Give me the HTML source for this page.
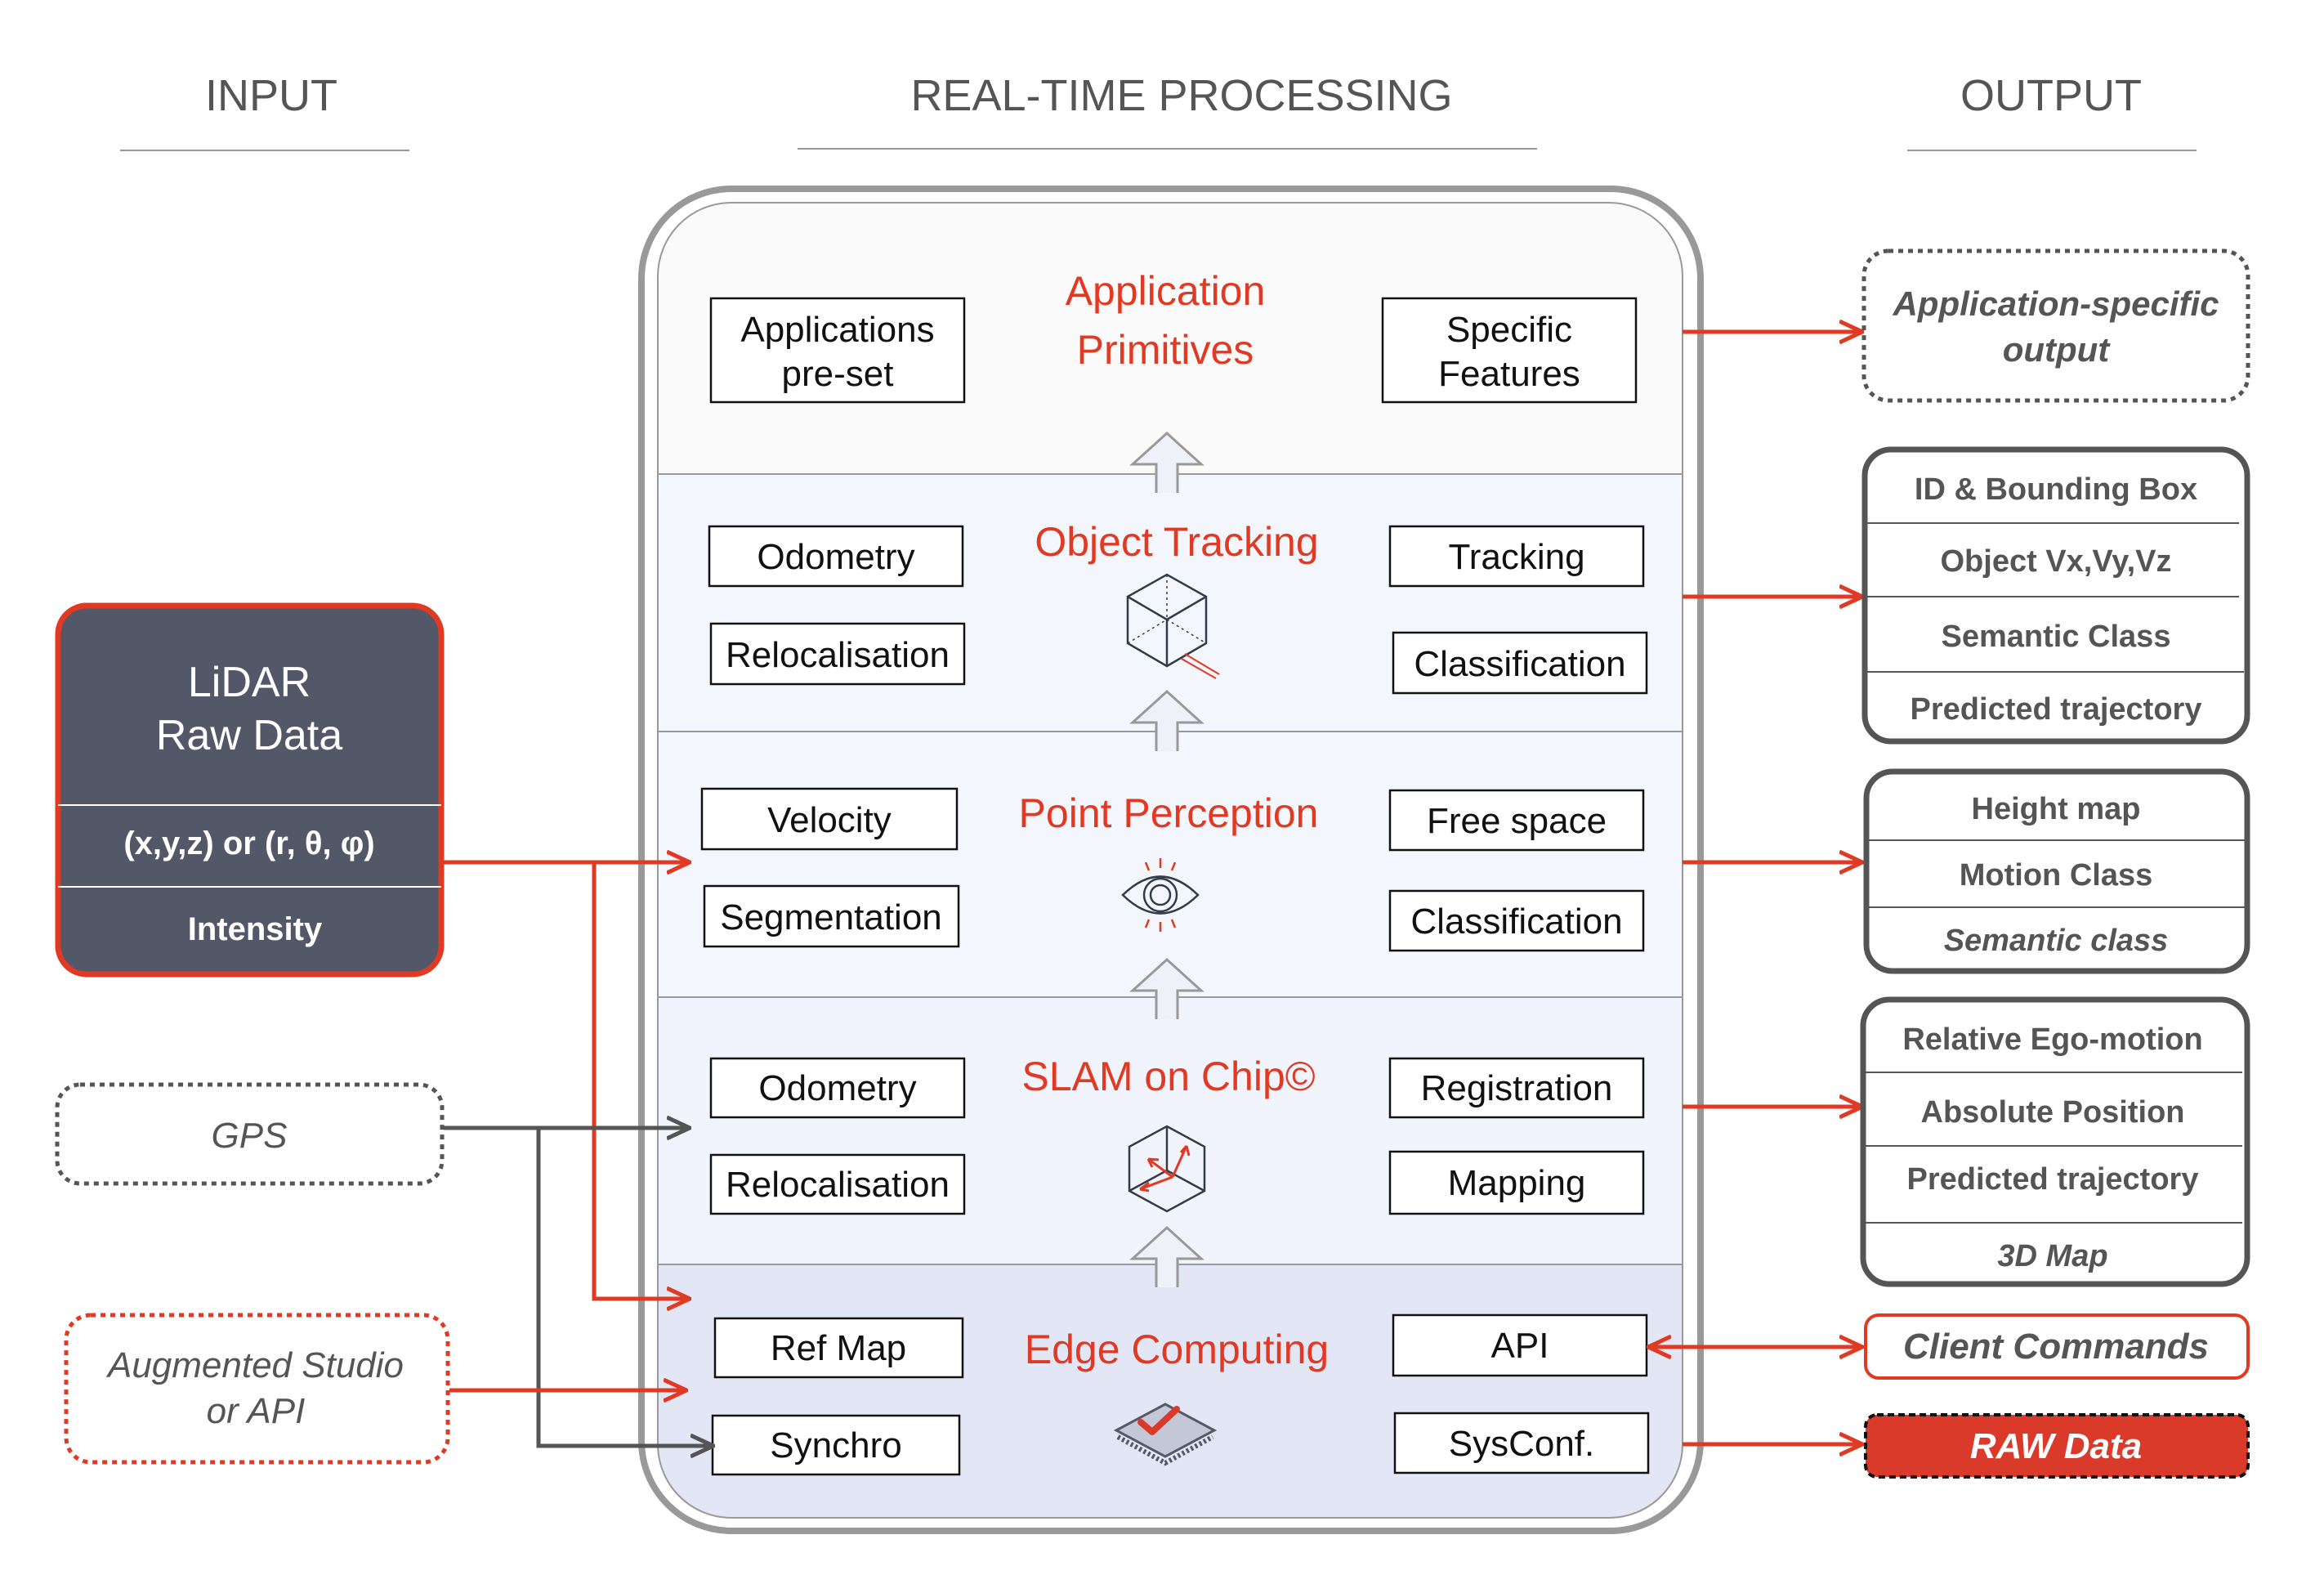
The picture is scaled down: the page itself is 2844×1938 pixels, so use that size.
<!DOCTYPE html>
<html><head><meta charset="utf-8"><style>
html,body{margin:0;padding:0;background:#fff}
svg{display:block}
text{font-family:"Liberation Sans",sans-serif}
</style></head><body>
<svg width="2844" height="1938" viewBox="0 0 2844 1938" xmlns="http://www.w3.org/2000/svg">
<defs>
<marker id="ar2" viewBox="0 0 30 30" refX="28" refY="15" markerWidth="30" markerHeight="30" markerUnits="userSpaceOnUse" orient="auto-start-reverse"><path d="M0,2 L28,15 L0,28" fill="none" stroke="#e03a24" stroke-width="5"/></marker>
<marker id="ag" viewBox="0 0 30 30" refX="28" refY="15" markerWidth="30" markerHeight="30" markerUnits="userSpaceOnUse" orient="auto"><path d="M0,2 L28,15 L0,28" fill="none" stroke="#555" stroke-width="5"/></marker>
<g id="uparrow"><path d="M-13,35 L-13,0 L-42,0 L0,-38 L42,0 L13,0 L13,35" fill="#eef1f8" stroke="#999" stroke-width="3"/></g>
</defs>

<g font-size="54" fill="#555" text-anchor="middle">
<text x="332" y="135">INPUT</text>
<text x="1446" y="135">REAL-TIME PROCESSING</text>
<text x="2510" y="135">OUTPUT</text>
</g>
<g stroke="#999" stroke-width="2">
<line x1="147" y1="184" x2="501" y2="184"/>
<line x1="976" y1="182" x2="1881" y2="182"/>
<line x1="2334" y1="184" x2="2688" y2="184"/>
</g>

<rect x="785" y="231" width="1296" height="1642" rx="110" fill="#fff" stroke="#999" stroke-width="8"/>
<clipPath id="inner"><rect x="805" y="248" width="1254" height="1609" rx="90"/></clipPath>
<g clip-path="url(#inner)">
<rect x="805" y="248" width="1254" height="332" fill="#fafafa"/>
<rect x="805" y="580" width="1254" height="315" fill="#f3f6fc"/>
<rect x="805" y="895" width="1254" height="325" fill="#f4f6fd"/>
<rect x="805" y="1220" width="1254" height="327" fill="#f1f4fc"/>
<rect x="805" y="1547" width="1254" height="310" fill="#e3e6f4"/>
<g stroke="#999" stroke-width="2">
<line x1="805" y1="580" x2="2059" y2="580"/>
<line x1="805" y1="895" x2="2059" y2="895"/>
<line x1="805" y1="1220" x2="2059" y2="1220"/>
<line x1="805" y1="1547" x2="2059" y2="1547"/>
</g>
</g>
<rect x="805" y="248" width="1254" height="1609" rx="90" fill="none" stroke="#999" stroke-width="2"/>

<use href="#uparrow" x="1428" y="568"/>
<use href="#uparrow" x="1428" y="884"/>
<use href="#uparrow" x="1428" y="1212"/>
<use href="#uparrow" x="1428" y="1540"/>

<g fill="#fff" stroke="#111" stroke-width="2.5">
<rect x="870" y="365" width="310" height="127"/>
<rect x="1692" y="365" width="310" height="127"/>
<rect x="868" y="644" width="310" height="73"/>
<rect x="870" y="763" width="310" height="74"/>
<rect x="1701" y="644" width="310" height="73"/>
<rect x="1705" y="774" width="310" height="74"/>
<rect x="859" y="965" width="312" height="74"/>
<rect x="862" y="1084" width="311" height="74"/>
<rect x="1701" y="967" width="310" height="73"/>
<rect x="1701" y="1090" width="310" height="73"/>
<rect x="870" y="1295" width="310" height="72"/>
<rect x="870" y="1413" width="310" height="72"/>
<rect x="1701" y="1295" width="310" height="72"/>
<rect x="1701" y="1409" width="310" height="76"/>
<rect x="875" y="1613" width="303" height="72"/>
<rect x="872" y="1732" width="302" height="72"/>
<rect x="1705" y="1609" width="310" height="74"/>
<rect x="1707" y="1729" width="310" height="73"/>
</g>
<g font-size="44" fill="#111" text-anchor="middle">
<text x="1025" y="418">Applications</text>
<text x="1025" y="472">pre-set</text>
<text x="1847" y="418">Specific</text>
<text x="1847" y="472">Features</text>
<text x="1023" y="696">Odometry</text>
<text x="1025" y="816">Relocalisation</text>
<text x="1856" y="696">Tracking</text>
<text x="1860" y="827">Classification</text>
<text x="1015" y="1018">Velocity</text>
<text x="1017" y="1137">Segmentation</text>
<text x="1856" y="1019">Free space</text>
<text x="1856" y="1142">Classification</text>
<text x="1025" y="1346">Odometry</text>
<text x="1025" y="1464">Relocalisation</text>
<text x="1856" y="1346">Registration</text>
<text x="1856" y="1462">Mapping</text>
<text x="1026" y="1664">Ref Map</text>
<text x="1023" y="1783">Synchro</text>
<text x="1860" y="1661">API</text>
<text x="1862" y="1781">SysConf.</text>
</g>

<g font-size="50" fill="#e03a24" text-anchor="middle">
<text x="1426" y="373">Application</text>
<text x="1426" y="445">Primitives</text>
<text x="1440" y="680">Object Tracking</text>
<text x="1430" y="1012">Point Perception</text>
<text x="1430" y="1334">SLAM on Chip©</text>
<text x="1440" y="1668">Edge Computing</text>
</g>

<g fill="none" stroke="#333a48" stroke-width="2.5">
<path d="M1380,730 L1428,703 L1476,730 L1476,787 L1428,815 L1380,787 Z"/>
<path d="M1380,730 L1428,758 L1476,730 M1428,758 L1428,815" />
<path d="M1428,703 L1428,758 M1380,787 L1428,758 L1476,787" stroke-dasharray="3,4" stroke-width="1.5"/>
</g>
<path d="M1450,800 L1492,825 M1446,806 L1488,830" stroke="#e03a24" stroke-width="2"/>

<g fill="none" stroke="#333a48" stroke-width="2.5">
<path d="M1374,1095 Q1420,1050 1466,1095 Q1420,1140 1374,1095 Z"/>
<circle cx="1420" cy="1095" r="20"/>
<circle cx="1420" cy="1095" r="12"/>
</g>
<g stroke="#e03a24" stroke-width="2.5">
<line x1="1420" y1="1050" x2="1420" y2="1062"/><line x1="1402" y1="1055" x2="1406" y2="1065"/><line x1="1438" y1="1055" x2="1434" y2="1065"/>
<line x1="1420" y1="1128" x2="1420" y2="1140"/><line x1="1402" y1="1135" x2="1406" y2="1125"/><line x1="1438" y1="1135" x2="1434" y2="1125"/>
</g>

<g fill="none" stroke="#333a48" stroke-width="2.5">
<path d="M1382,1403 L1428,1378 L1474,1403 L1474,1457 L1428,1482 L1382,1457 Z"/>
<path d="M1428,1378 L1428,1432 M1382,1457 L1428,1432 L1474,1457"/>
</g>
<g stroke="#e03a24" stroke-width="3" fill="none">
<path d="M1435,1440 L1405,1418 M1405,1418 L1418,1419 M1405,1418 L1410,1428"/>
<path d="M1435,1440 L1452,1402 M1452,1402 L1445,1410 M1452,1402 L1455,1414"/>
<path d="M1435,1440 L1395,1455 M1395,1455 L1406,1447 M1395,1455 L1406,1457"/>
</g>

<path d="M1366,1750 L1426,1718 L1486,1750 L1426,1782 Z" fill="#c4c7d6" stroke="#555a66" stroke-width="3"/>
<path d="M1368,1758 L1426,1790 L1484,1758" fill="none" stroke="#555a66" stroke-width="6" stroke-dasharray="3,3"/>
<path d="M1396,1740 L1410,1752 L1440,1724" fill="none" stroke="#d93a2a" stroke-width="8" stroke-linecap="round" stroke-linejoin="round"/>

<rect x="71" y="741" width="469" height="451" rx="35" fill="#525868" stroke="#e03a24" stroke-width="7"/>
<line x1="71" y1="985" x2="540" y2="985" stroke="#fff" stroke-width="2"/>
<line x1="71" y1="1085" x2="540" y2="1085" stroke="#fff" stroke-width="2"/>
<g fill="#fff" text-anchor="middle">
<text x="305" y="852" font-size="52">LiDAR</text>
<text x="305" y="917" font-size="52">Raw Data</text>
<text x="305" y="1045" font-size="40" font-weight="bold">(x,y,z) or (r, θ, φ)</text>
<text x="312" y="1150" font-size="40" font-weight="bold">Intensity</text>
</g>

<rect x="70" y="1327" width="471" height="121" rx="28" fill="#fff" stroke="#555" stroke-width="5" stroke-dasharray="6,6"/>
<text x="305" y="1404" font-size="44" font-style="italic" fill="#555" text-anchor="middle">GPS</text>

<rect x="81" y="1609" width="467" height="180" rx="30" fill="#fff" stroke="#e03a24" stroke-width="5" stroke-dasharray="6,6"/>
<g font-size="44" font-style="italic" fill="#555" text-anchor="middle">
<text x="313" y="1685">Augmented Studio</text>
<text x="313" y="1741">or API</text>
</g>

<g fill="none" stroke-width="5">
<path d="M543,1055 L844,1055" stroke="#e03a24" marker-end="url(#ar2)"/>
<path d="M727,1055 L727,1589 L844,1589" stroke="#e03a24" marker-end="url(#ar2)"/>
<path d="M543,1380 L844,1380" stroke="#555" marker-end="url(#ag)"/>
<path d="M659,1380 L659,1769 L873,1769" stroke="#555" marker-end="url(#ag)"/>
<path d="M550,1701 L840,1701" stroke="#e03a24" marker-end="url(#ar2)"/>
</g>

<g fill="none" stroke-width="5" stroke="#e03a24">
<path d="M2059,406 L2279,406" marker-end="url(#ar2)"/>
<path d="M2059,730 L2279,730" marker-end="url(#ar2)"/>
<path d="M2059,1055 L2279,1055" marker-end="url(#ar2)"/>
<path d="M2059,1354 L2279,1354" marker-end="url(#ar2)"/>
<path d="M2017,1648 L2279,1648" marker-start="url(#ar2)" marker-end="url(#ar2)"/>
<path d="M2059,1767 L2279,1767" marker-end="url(#ar2)"/>
</g>

<rect x="2281" y="307" width="470" height="183" rx="30" fill="#fff" stroke="#555" stroke-width="5" stroke-dasharray="6,6"/>
<g font-size="42" font-style="italic" font-weight="bold" fill="#555" text-anchor="middle">
<text x="2516" y="386">Application-specific</text>
<text x="2516" y="442">output</text>
</g>

<g fill="#fff" stroke="#555" stroke-width="7">
<rect x="2282" y="550" width="468" height="357" rx="32"/>
<rect x="2284" y="944" width="466" height="244" rx="32"/>
<rect x="2280" y="1223" width="470" height="348" rx="32"/>
</g>
<g stroke="#555" stroke-width="2">
<line x1="2282" y1="640" x2="2740" y2="640"/>
<line x1="2282" y1="730" x2="2740" y2="730"/>
<line x1="2282" y1="822" x2="2746" y2="822"/>
<line x1="2284" y1="1028" x2="2748" y2="1028"/>
<line x1="2284" y1="1110" x2="2748" y2="1110"/>
<line x1="2280" y1="1312" x2="2744" y2="1312"/>
<line x1="2280" y1="1402" x2="2744" y2="1402"/>
<line x1="2280" y1="1496" x2="2744" y2="1496"/>
</g>
<g font-size="38" font-weight="bold" fill="#555" text-anchor="middle">
<text x="2516" y="611">ID &amp; Bounding Box</text>
<text x="2516" y="699">Object Vx,Vy,Vz</text>
<text x="2516" y="791">Semantic Class</text>
<text x="2516" y="880">Predicted trajectory</text>
<text x="2516" y="1002">Height map</text>
<text x="2516" y="1083">Motion Class</text>
<text x="2516" y="1163" font-style="italic">Semantic class</text>
<text x="2512" y="1284">Relative Ego-motion</text>
<text x="2512" y="1373">Absolute Position</text>
<text x="2512" y="1455">Predicted trajectory</text>
<text x="2512" y="1549" font-style="italic">3D Map</text>
</g>

<rect x="2283" y="1609" width="468" height="77" rx="16" fill="#fff" stroke="#e03a24" stroke-width="4"/>
<text x="2516" y="1662" font-size="44" font-style="italic" font-weight="bold" fill="#555" text-anchor="middle">Client Commands</text>

<rect x="2283" y="1731" width="468" height="76" rx="14" fill="#d93a2a" stroke="#111" stroke-width="4" stroke-dasharray="8,5"/>
<text x="2516" y="1784" font-size="44" font-style="italic" font-weight="bold" fill="#fff" text-anchor="middle">RAW Data</text>
</svg>
</body></html>
